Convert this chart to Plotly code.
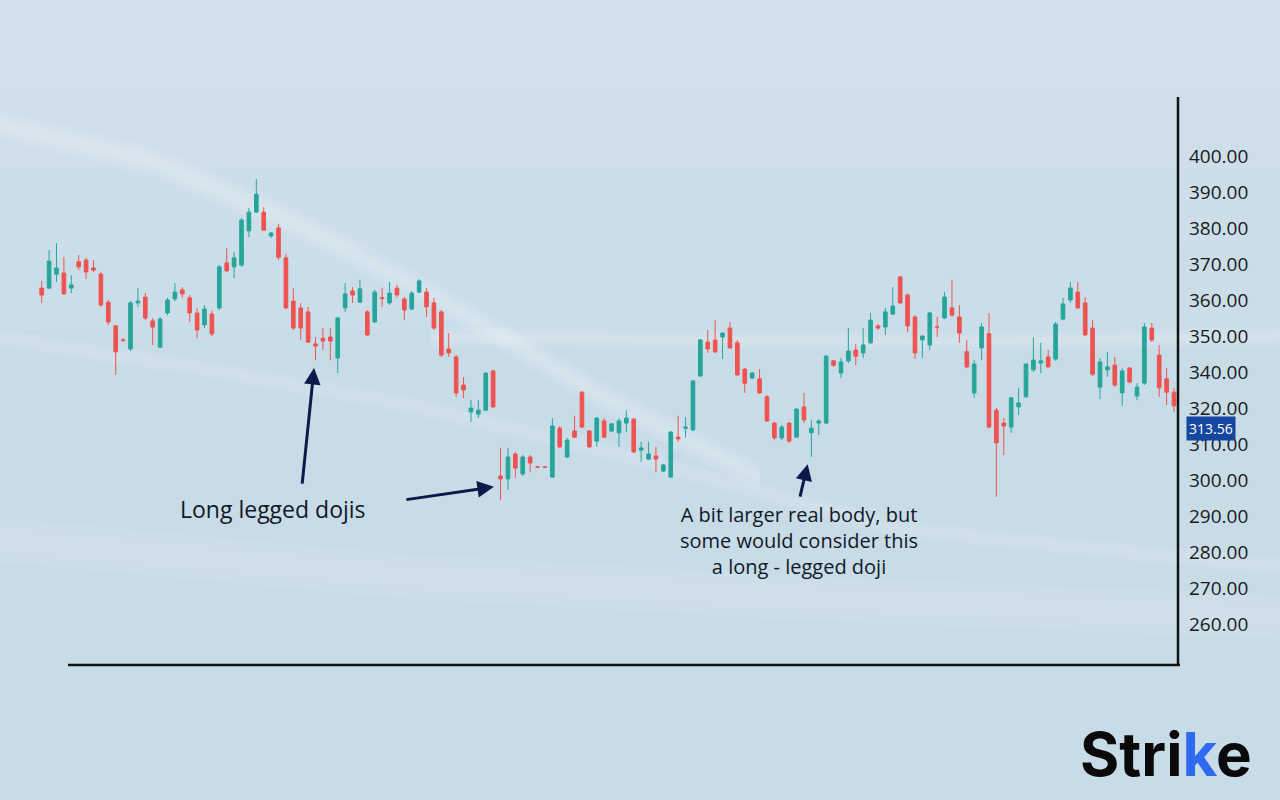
import plotly.graph_objects as go

# ---------------- data ----------------
open_ = [363.3, 363.3, 367.2, 367.5, 363.3, 370.6, 371.1, 368.9, 367.2, 359.4,
         352.8, 348.9, 346.4, 359.2, 360.8, 354.2, 346.9, 356.4, 360.3, 362.8,
         360.6, 356.4, 353.1, 356.1, 357.8, 370.3, 369.2, 369.7, 379.2, 384.4,
         384.4, 377.8, 380.0, 371.7, 359.7, 357.8, 356.7, 347.8, 349.4, 349.7,
         343.9, 357.8, 362.5, 359.4, 356.7, 353.9, 360.6, 359.2, 363.3, 360.3,
         357.5, 362.2, 362.2, 359.2, 356.7, 346.4, 344.2, 336.4, 328.9, 328.3,
         329.4, 340.3, 311.1, 310.3, 317.2, 311.7, 316.4, 313.6, 313.6, 310.8,
         324.4, 316.4, 323.6, 334.4, 323.6, 320.8, 326.4, 323.6, 323.1, 325.8,
         326.9, 318.3, 315.8, 316.7, 312.5, 310.8, 321.9, 324.4, 323.9, 338.9,
         348.3, 348.9, 349.7, 352.2, 348.1, 340.8, 338.3, 338.1, 333.1, 325.8,
         321.7, 325.8, 321.9, 330.3, 323.1, 325.8, 325.8, 343.1, 339.7, 343.1,
         346.1, 345.3, 348.1, 352.8, 352.5, 356.1, 366.4, 361.4, 355.3, 348.9,
         347.5, 352.5, 355.0, 357.8, 355.3, 345.6, 334.2, 346.7, 350.6, 329.4,
         325.8, 324.7, 330.3, 333.1, 340.6, 342.5, 344.2, 343.6, 354.7, 360.0,
         362.2, 359.2, 352.2, 335.8, 340.6, 341.9, 334.2, 341.1, 333.3, 336.9,
         352.2, 344.7, 338.1, 334.4]

high = [365.3, 373.9, 375.8, 371.9, 366.9, 372.5, 371.7, 371.1, 367.8, 360.0,
        353.1, 349.4, 359.7, 363.3, 361.9, 355.0, 355.3, 360.6, 364.7, 363.6,
        361.4, 357.8, 358.6, 357.0, 369.7, 374.4, 373.3, 382.8, 385.6, 393.6,
        385.8, 378.9, 381.1, 372.8, 363.3, 359.2, 358.1, 349.7, 352.2, 352.2,
        355.3, 364.7, 363.6, 365.6, 357.2, 362.8, 363.3, 365.0, 364.2, 360.8,
        362.5, 365.8, 363.3, 360.6, 357.2, 350.8, 344.7, 338.6, 332.2, 332.2,
        340.0, 340.6, 318.9, 318.9, 317.8, 316.9, 316.9, 313.9, 313.9, 327.2,
        325.0, 321.7, 327.8, 334.7, 323.9, 327.5, 327.2, 325.8, 327.2, 329.4,
        327.2, 320.6, 320.6, 319.2, 314.4, 323.6, 327.8, 327.5, 337.8, 349.2,
        351.7, 354.4, 351.1, 353.9, 348.9, 341.1, 340.0, 340.8, 333.6, 326.1,
        325.3, 326.1, 330.0, 334.2, 326.7, 326.9, 344.7, 343.3, 343.9, 352.2,
        347.8, 352.2, 356.4, 353.3, 357.8, 363.6, 366.7, 361.9, 355.8, 350.3,
        356.7, 355.3, 362.2, 365.6, 358.6, 348.9, 343.3, 353.6, 356.4, 330.0,
        327.2, 333.1, 335.6, 342.5, 349.7, 348.1, 346.1, 353.9, 360.6, 365.0,
        365.0, 360.8, 354.4, 343.9, 345.6, 344.2, 341.1, 341.4, 336.9, 353.6,
        353.6, 347.5, 341.1, 335.6]

low = [359.2, 363.0, 365.0, 361.5, 361.9, 368.3, 365.8, 367.8, 358.1, 353.1,
       339.2, 348.3, 345.8, 358.1, 354.4, 347.5, 346.7, 355.8, 359.7, 360.6,
       353.9, 349.4, 352.2, 350.0, 357.2, 367.8, 366.1, 369.2, 377.5, 384.2,
       379.2, 377.2, 371.1, 357.5, 351.7, 348.9, 348.1, 343.3, 346.1, 343.3,
       339.7, 356.7, 359.2, 359.2, 350.0, 353.6, 358.1, 358.6, 360.6, 354.4,
       357.2, 361.9, 355.3, 351.7, 344.2, 344.2, 333.1, 332.8, 326.1, 327.2,
       329.2, 330.0, 304.4, 307.2, 310.6, 311.1, 312.2, 313.3, 313.3, 310.6,
       318.9, 316.1, 321.7, 324.4, 318.9, 319.2, 321.7, 323.3, 319.2, 323.3,
       317.5, 315.0, 315.6, 312.2, 312.2, 310.6, 320.6, 321.7, 323.6, 338.6,
       345.3, 345.3, 343.6, 346.4, 338.9, 334.2, 338.1, 333.9, 326.1, 321.1,
       321.1, 320.3, 321.9, 325.8, 316.4, 322.5, 325.6, 341.4, 338.3, 342.5,
       341.9, 343.9, 347.8, 351.7, 350.3, 355.8, 358.9, 351.1, 343.6, 343.9,
       346.1, 349.7, 354.7, 355.3, 348.1, 341.1, 332.8, 343.3, 324.4, 305.3,
       316.9, 323.1, 328.1, 332.8, 340.0, 339.7, 341.4, 343.1, 354.4, 359.2,
       357.5, 350.0, 338.9, 332.5, 338.6, 335.8, 330.6, 336.9, 332.2, 336.4,
       348.3, 333.1, 330.8, 328.9]

close = [361.4, 370.8, 368.9, 361.7, 364.2, 369.2, 367.8, 368.3, 358.6, 353.9,
         345.6, 348.8, 359.2, 359.7, 355.0, 352.5, 354.7, 360.0, 362.2, 361.7,
         356.4, 351.7, 357.5, 350.6, 369.2, 368.1, 371.7, 382.2, 384.4, 389.4,
         379.4, 378.6, 371.9, 357.8, 352.2, 352.2, 348.3, 347.2, 348.6, 348.6,
         355.0, 361.7, 361.4, 363.1, 350.3, 362.2, 360.5, 361.9, 361.4, 357.2,
         361.9, 365.3, 358.1, 352.2, 344.7, 345.3, 334.2, 335.0, 330.0, 329.4,
         339.7, 330.3, 310.3, 316.4, 313.3, 316.4, 314.7, 313.6, 313.6, 325.0,
         319.2, 321.1, 321.9, 324.7, 319.2, 327.2, 321.9, 325.6, 326.4, 327.2,
         317.8, 318.9, 317.2, 315.8, 314.2, 323.3, 321.4, 324.7, 337.5, 348.9,
         346.4, 345.6, 350.8, 346.7, 339.2, 336.9, 339.7, 334.2, 326.4, 321.7,
         324.7, 320.8, 329.7, 326.7, 324.4, 326.4, 344.4, 341.9, 342.8, 345.8,
         344.4, 347.5, 354.4, 352.2, 356.7, 358.3, 359.2, 352.8, 345.3, 350.0,
         356.4, 352.5, 360.8, 355.8, 350.8, 341.4, 342.2, 352.5, 324.7, 320.3,
         325.0, 332.8, 331.4, 342.2, 343.3, 343.1, 341.4, 353.3, 358.9, 363.3,
         357.8, 350.3, 339.4, 342.8, 341.4, 336.4, 340.3, 337.2, 335.8, 352.5,
         348.9, 335.6, 334.4, 330.6]

x_idx = list(range(len(open_)))

tick_vals = [400, 390, 380, 370, 360, 350, 340, 330, 320, 310, 300, 290, 280, 270]
tick_text = ["400.00", "390.00", "380.00", "370.00", "360.00", "350.00", "340.00",
             "320.00", "310.00", "300.00", "290.00", "280.00", "270.00", "260.00"]

last_price_label = "313.56"
last_price_level = 324.4

# ---------------- layout helpers ----------------
L, R, T, B = 30, 1178, 97, 665
W, H = 1280, 800


def px(xp):
    return (xp - L) / (R - L)


def py(yp):
    return (B - yp) / (B - T)


def band_path(center, hw):
    top = [(x, y - hw) for x, y in center]
    bot = [(x, y + hw) for x, y in reversed(center)]
    pts = top + bot
    s = "M {:.4f},{:.4f}".format(px(pts[0][0]), py(pts[0][1]))
    for p in pts[1:]:
        s += " L {:.4f},{:.4f}".format(px(p[0]), py(p[1]))
    return s + " Z"


fig = go.Figure()
fig.add_trace(go.Candlestick(
    x=x_idx, open=open_, high=high, low=low, close=close,
    increasing=dict(line=dict(color="#26a69a", width=1), fillcolor="#26a69a"),
    decreasing=dict(line=dict(color="#ef5350", width=1), fillcolor="#ef5350"),
    whiskerwidth=0, showlegend=False, hoverinfo="skip",
))

shapes = []
# background wash (lighter towards the top)
for ybot in (90, 170, 250, 330):
    shapes.append(dict(type="rect", xref="paper", yref="paper", layer="below",
                       x0=px(0), x1=px(W), y0=py(ybot), y1=py(0),
                       fillcolor="#ffffff", opacity=0.05, line=dict(width=0)))
# soft, feathered swooshes
bands = [
    ([(0, 125), (150, 160), (300, 225), (450, 305), (600, 395), (760, 478)], 15, 0.09),
    ([(430, 337), (700, 340), (1000, 341), (1280, 336)], 10, 0.08),
    ([(0, 540), (400, 576), (800, 598), (1280, 617)], 22, 0.06),
    ([(0, 338), (200, 368), (400, 403), (600, 449), (900, 529), (1280, 567)], 9, 0.06),
]
for center, hw, op in bands:
    for f in (1.0, 0.66, 0.33):
        shapes.append(dict(type="path", xref="paper", yref="paper", layer="below",
                           path=band_path(center, hw * f), fillcolor="#ffffff",
                           opacity=op, line=dict(width=0)))
# axis lines
shapes.append(dict(type="line", xref="paper", yref="paper",
                   x0=px(1178), x1=px(1178), y0=py(665), y1=py(97),
                   line=dict(color="#111111", width=2.5)))
shapes.append(dict(type="line", xref="paper", yref="paper",
                   x0=px(68), x1=px(1180), y0=py(665), y1=py(665),
                   line=dict(color="#111111", width=2.5)))

ann_font = "Open Sans, Noto Sans, sans-serif"
arrow_col = "#0b1a48"
annotations = [
    dict(x=36.8, y=341.1, xref="x", yref="y", ax=-12, ay=117, text="",
         showarrow=True, arrowhead=2, arrowsize=1.1, arrowwidth=3, arrowcolor=arrow_col),
    dict(x=61.1, y=308.1, xref="x", yref="y", ax=-89, ay=13, text="",
         showarrow=True, arrowhead=2, arrowsize=1.1, arrowwidth=3, arrowcolor=arrow_col),
    dict(x=103.5, y=314.4, xref="x", yref="y", ax=-8, ay=34, text="",
         showarrow=True, arrowhead=2, arrowsize=1.1, arrowwidth=3, arrowcolor=arrow_col),
    dict(x=px(273), y=py(509), xref="paper", yref="paper", showarrow=False,
         text="Long legged dojis", xanchor="center", yanchor="middle",
         font=dict(family=ann_font, size=23, color="#111827")),
    dict(x=px(799), y=py(540), xref="paper", yref="paper", showarrow=False,
         text="A bit larger real body, but<br>some would consider this<br>a long - legged doji",
         xanchor="center", yanchor="middle", align="center",
         font=dict(family=ann_font, size=20, color="#111827")),
    dict(x=px(1186), y=last_price_level, xref="paper", yref="y", showarrow=False,
         text=last_price_label, xanchor="left", yanchor="middle",
         bgcolor="#1546a0", borderpad=2,
         font=dict(family=ann_font, size=14, color="#ffffff")),
    dict(x=px(1166), y=py(754), xref="paper", yref="paper", showarrow=False,
         text="<b>Stri<span style='color:#2e6bf0'>k</span>e</b>",
         xanchor="center", yanchor="middle",
         font=dict(family="Inter, Roboto, sans-serif", size=60, color="#0a0a0a")),
]

fig.update_layout(
    width=W, height=H, autosize=False,
    margin=dict(l=L, r=W - R, t=T, b=H - B),
    paper_bgcolor="#c8dce8", plot_bgcolor="rgba(0,0,0,0)",
    shapes=shapes, annotations=annotations,
    xaxis=dict(visible=False, range=[-1.58, 153.54], rangeslider=dict(visible=False),
               fixedrange=True),
    yaxis=dict(side="right", range=[258.61, 416.39], tickvals=tick_vals,
               ticktext=tick_text, showgrid=False, zeroline=False, showline=False,
               ticks="", ticklabelstandoff=10, fixedrange=True,
               tickfont=dict(family=ann_font, size=19, color="#1a1a1a")),
)

fig.write_html("out.html",
               config={"displayModeBar": False, "staticPlot": True},
               post_script="document.body.style.margin='0';"
                           "document.body.style.overflow='hidden';")
